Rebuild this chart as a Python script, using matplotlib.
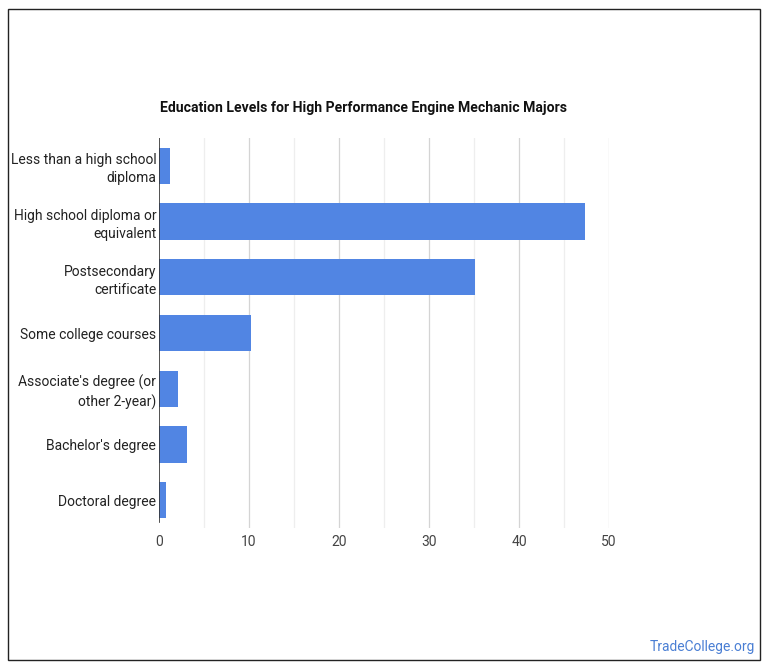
import matplotlib.pyplot as plt
from matplotlib.patches import Rectangle

plt.rcParams['font.family'] = ['Roboto', 'DejaVu Sans']

categories = ['Less than a high school\ndiploma', 'High school diploma or\nequivalent',
              'Postsecondary\ncertificate', 'Some college courses',
              'Associate\'s degree (or\nother 2-year)', 'Bachelor\'s degree', 'Doctoral degree']
values = [1.2, 47.3, 35.1, 10.2, 2.1, 3.1, 0.8]
xticks = [0, 10, 20, 30, 40, 50]

fig = plt.figure(figsize=(7.7, 6.7), dpi=100)
fig.patches.append(Rectangle((8 / 770, 10 / 670), 752 / 770, 651 / 670, transform=fig.transFigure,
                             fill=False, edgecolor='#222222', linewidth=1))

ax = fig.add_axes([159 / 770, 142 / 670, 450 / 770, 390 / 670])
y = list(range(len(categories)))
ax.barh(y, values, height=0.65, color='#5185E3', zorder=3)
ax.set_ylim(len(categories) - 0.5, -0.5)
ax.set_xlim(0, 50)

for v in range(5, 50, 10):
    ax.axvline(v, color='#eeeeee', linewidth=0.9, zorder=1)
for v in xticks[1:]:
    ax.axvline(v, color='#d4d4d4', linewidth=0.9, zorder=1)
# zero line stops a little above the bottom of the axes, as in the original
ax.axvline(0, ymin=0.015, ymax=1, color='#333333', linewidth=1.2, zorder=4)

ax.set_xticks(xticks)
ax.set_yticks(y)
ax.set_yticklabels(categories, fontsize=10, color='#222222', linespacing=1.35)
ax.tick_params(axis='x', length=0, labelsize=10, labelcolor='#444444', pad=5)
ax.tick_params(axis='y', length=0, pad=2)
for s in ax.spines.values():
    s.set_visible(False)

fig.text(363 / 770, 1 - 108 / 670, 'Education Levels for High Performance Engine Mechanic Majors',
         ha='center', va='center', fontsize=10.1, fontweight='bold', color='#111111')
fig.text(755 / 770, 1 - 647 / 670, 'TradeCollege.org', ha='right', va='center',
         fontsize=10, color='#4a7fd4')

fig.savefig('out.png', dpi=100)
